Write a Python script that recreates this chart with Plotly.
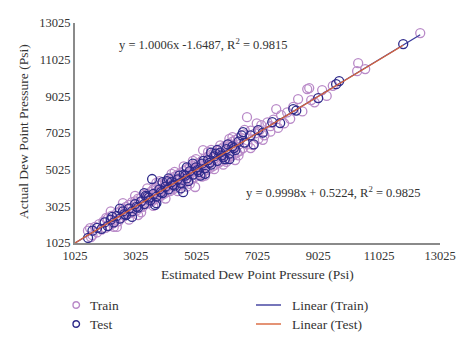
import plotly.graph_objects as go

# Train data (estimated, actual)
train_x = [1450,1520,1600,1680,1750,1820,1900,1960,2030,2100,2150,2220,2280,2350,2400,2450,2500,1550,2050,2300,
           2550,2600,2650,2700,2750,2800,2850,2900,2950,3000,3050,3100,3150,3200,3250,3300,3350,3400,3450,3500,2680,2880,3080,3280,3480,
           3550,3600,3650,3700,3750,3800,3850,3900,3950,4000,4050,4100,4150,4200,4250,4300,4350,4400,4450,4500,3620,3820,4020,4220,4420,3720,3920,4120,4320,4480,
           4550,4600,4650,4700,4750,4800,4850,4900,4950,4975,5000,5050,5100,5150,5200,5235,5250,5300,5350,5400,5450,5500,4620,4820,5020,5220,5420,4720,4920,5120,
           5550,5600,5650,5700,5750,5800,5850,5900,5950,6000,6050,6100,6150,6200,6250,6290,6300,6350,6400,6450,5620,5820,6020,6220,6420,
           6550,6600,6680,6700,6800,6880,6950,7050,7150,7250,7350,7450,7550,7640,7700,7800,7900,8000,7450,7100,
           8100,8200,8360,8500,8660,8725,8790,9150,9300,9500,10300,10335,10565,12375,8900,
           2200,2400,2600,2800,3000,3200,3400,3600,3800,4000,4200,4400,4600,4800,5000,5200,5400,5600,5800,6000,
           6200,6400,6600,6800,7000,7200,3700,4300,4900,5500,6100,3100,4700,5300,5900]
train_y = [1700,1840,1450,1900,1600,2050,1750,2200,1850,2350,1950,2500,2100,2250,2650,2200,2750,1350,2400,1900,
           2400,2900,2500,3000,2600,3100,2650,3250,2750,3300,2800,3450,2950,3500,3000,3650,3150,3700,3200,3800,2750,2950,3100,3350,3500,
           3300,3950,3400,4050,3500,4150,3600,4250,3700,4350,3800,4450,3850,4550,3950,4650,4050,4750,4150,4850,3650,3850,4050,4250,4400,3800,4000,4150,4300,4550,
           4250,4950,4350,5050,4450,5150,4500,5250,4600,4080,5350,4700,5400,4800,5500,6095,4900,5650,5000,5750,5100,5850,4650,4850,5050,5200,5400,4750,4950,5150,
           5200,5950,5300,6050,5400,6150,5500,6250,5550,6350,5650,6450,5750,6550,5850,5550,6650,5950,6750,6050,5650,5850,6050,6250,6400,
           6200,6950,7890,6400,7150,6365,7000,6700,7450,6900,7600,7100,7750,8330,7300,8000,7550,8150,7400,7200,
           7800,8450,8875,8200,9420,9475,8820,9365,9050,9600,10400,10835,10510,12475,8700,
           2750,1900,3200,2300,3600,2700,4000,3050,4400,3450,4800,3850,5200,4250,5600,4650,6000,5050,6350,5450,
           6800,5800,7200,6200,7550,6650,4300,4900,5500,6100,6700,2550,4100,4700,5300]

# Test data (estimated, actual)
test_x = [1455,1600,1750,1900,2000,2100,2200,2300,2400,2500,2600,2700,2800,2900,3000,3100,3200,3300,3400,3500,
          3560,3660,3600,3700,3800,3900,4000,4100,4200,4300,4400,4500,4580,4600,4700,4800,4900,5000,5100,5200,
          5300,5400,5500,5600,5700,5800,5900,6000,6100,6200,6300,6400,6550,6600,6800,7045,7200,7510,7770,8200,
          8300,9020,9610,9710,11815,
          2250,2650,3050,3450,3850,4250,4650,5050,5450,5850,6250,3350,4050,4450,5250,5650,6050,4750,5150,5950,
          2500,2900,3300,3700,4100,4500,4900,5300,5700,6100,6500,6900,3900,4700,5500]
test_y = [1300,1700,1850,1800,2150,1950,2300,2150,2500,2350,2750,2550,2900,2750,3150,2950,3300,3150,3550,3350,
          4515,3100,3700,3550,3950,3750,4100,3950,4350,4150,4500,4300,3800,4750,4550,4950,4750,5150,4900,5350,
          5100,5550,5300,5750,5500,5950,5700,6150,5900,6300,6100,6550,7075,6500,6900,7185,7050,7620,7565,8330,
          8250,8930,9690,9855,11875,
          2450,2600,3000,3500,3800,4200,4700,5000,5400,5800,6200,3600,4400,4700,5500,5900,6400,4400,4700,5600,
          2900,2450,3750,3200,4550,4000,5350,4800,6100,5600,6900,6400,4350,5150,5950]

# Trendline coefficients (from chart equations)
train_slope, train_icpt = 1.0006, -1.6487
test_slope, test_icpt = 0.9998, 0.5224
line_x_train = [1025, 12375]
line_x_test = [1025, 11815]

tick_vals = [1025, 3025, 5025, 7025, 9025, 11025, 13025]
tick_text = ["1025", "3025", "5025", "7025", "9025", "11025", "13025"]

FONT = "Liberation Serif"
TXT = "#333333"
TRAIN_C = "#b98ac8"
TEST_C = "#2e2a8a"
LTRAIN_C = "#3b3b9c"
LTEST_C = "#d9653a"

# plot-area geometry in pixels (for placing text/legend in paper coords)
PL, PR, PT, PB = 75, 440, 23, 243
def px(xp):
    return (xp - PL) / (PR - PL)
def py(yp):
    return (PB - yp) / (PB - PT)

fig = go.Figure()
fig.add_trace(go.Scatter(x=train_x, y=train_y, mode="markers", name="Train",
                         marker=dict(symbol="circle-open", size=9, color=TRAIN_C, line=dict(width=1.3))))
fig.add_trace(go.Scatter(x=line_x_train, y=[train_slope * v + train_icpt for v in line_x_train],
                         mode="lines", name="Linear (Train)", line=dict(color=LTRAIN_C, width=1.3)))
fig.add_trace(go.Scatter(x=test_x, y=test_y, mode="markers", name="Test",
                         marker=dict(symbol="circle-open", size=9, color=TEST_C, line=dict(width=1.3))))
fig.add_trace(go.Scatter(x=line_x_test, y=[test_slope * v + test_icpt for v in line_x_test],
                         mode="lines", name="Linear (Test)", line=dict(color=LTEST_C, width=1.3)))

def note(x, y, text, size=13, xanchor="center", angle=0):
    fig.add_annotation(xref="paper", yref="paper", x=px(x), y=py(y), xanchor=xanchor,
                       yanchor="middle", text=text, showarrow=False, textangle=angle,
                       font=dict(family=FONT, size=size, color=TXT))

note(203, 44, "y = 1.0006x -1.6487, R<sup>2</sup> = 0.9815", size=12.5)
note(333, 192, "y = 0.9998x + 0.5224, R<sup>2</sup> = 0.9825", size=12.5)

# axis titles
note(257, 274, "Estimated Dew Point Pressure (Psi)", size=13.5)
note(23, 132, "Actual Dew Point Pressure (Psi)", size=13.5, angle=-90)

# Manual legend (2 columns)
leg_rows = [305, 324]
for (name, color), yr in zip([("Train", TRAIN_C), ("Test", TEST_C)], leg_rows):
    fig.add_shape(type="circle", xref="paper", yref="paper",
                  x0=px(73), x1=px(79.5), y0=py(yr + 3.3), y1=py(yr - 3.3),
                  line=dict(color=color, width=1.4))
    note(88, yr, name, size=13.5, xanchor="left")
for (name, color), yr in zip([("Linear (Train)", LTRAIN_C), ("Linear (Test)", LTEST_C)], leg_rows):
    fig.add_shape(type="line", xref="paper", yref="paper",
                  x0=px(256), x1=px(281), y0=py(yr), y1=py(yr),
                  line=dict(color=color, width=1.4))
    note(290, yr, name, size=13.5, xanchor="left")

axis_common = dict(range=[1025, 13025], tickvals=tick_vals, ticktext=tick_text, showgrid=False,
                   zeroline=False, showline=True, linecolor="#8a8a8a", linewidth=2, ticks="",
                   tickfont=dict(family=FONT, size=12.5, color=TXT))
fig.update_xaxes(**axis_common)
fig.update_yaxes(**axis_common)

fig.update_layout(
    width=474, height=347,
    margin=dict(l=PL, r=474 - PR, t=PT, b=347 - PB),
    paper_bgcolor="white", plot_bgcolor="white",
    showlegend=False,
)

fig.write_html("out.html")
